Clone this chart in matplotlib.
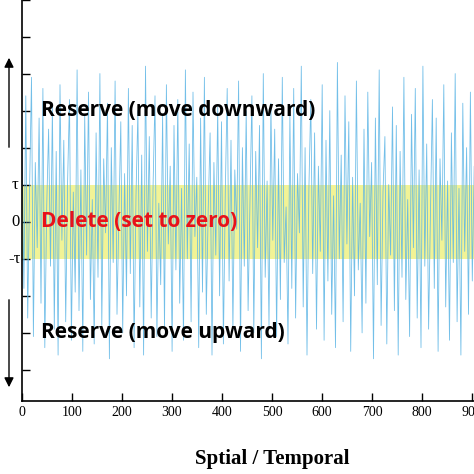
import matplotlib
matplotlib.use("Agg")
import matplotlib.pyplot as plt

step = 3.8
signal = [
 2.1,-1.8,3.4,-2.6,0.9,3.9,-3.1,1.6,-0.7,2.8,-2.2,3.6,-3.4,0.4,2.5,-1.2,3.1,-2.9,1.9,-3.6,
 3.7,-0.5,2.2,-2.7,1.1,3.3,-3.2,0.8,-1.9,4.1,-2.4,1.4,-3.5,2.9,-0.9,3.5,-2.1,0.6,-3.3,2.4,
 -1.5,4.0,-2.8,1.7,-0.3,3.2,-3.7,2.0,-1.1,3.8,-2.5,0.2,2.7,-3.0,1.3,-2.0,3.6,-1.4,2.6,-3.4,
 0.7,3.0,-2.3,1.8,-3.6,4.2,-0.8,2.3,-2.6,1.0,3.4,-3.1,0.5,-1.7,2.9,-2.9,3.7,-0.6,1.5,-3.5,
 2.6,-1.3,3.3,-2.2,0.9,-3.2,4.1,-1.0,2.1,-2.7,3.5,-0.4,1.2,-3.4,2.8,-1.9,3.9,-2.5,0.3,2.4,
 -3.6,1.6,-0.9,3.1,-2.0,2.7,-3.3,0.8,3.6,-1.6,2.2,-2.9,1.4,-0.2,3.8,-3.5,2.0,-1.2,3.0,-2.4,
 0.6,3.4,-3.0,1.9,-0.7,2.6,-3.7,4.0,-1.5,1.1,-2.8,3.2,-0.5,2.5,-3.1,1.7,-2.1,3.9,-1.1,0.4,
 -3.3,2.9,-1.8,3.6,-2.6,1.3,-0.3,4.2,-2.3,2.0,-3.6,0.9,3.3,-1.4,2.4,-2.9,1.5,-0.8,3.7,-3.2,
 2.2,-1.6,3.0,-2.5,0.7,-3.4,4.3,-1.0,1.8,-2.7,3.4,-0.6,2.7,-3.5,1.2,-2.0,3.8,-1.3,0.5,-3.0,
 2.5,-2.2,3.5,-0.4,1.6,-3.7,2.8,-1.7,4.1,-2.8,0.8,2.3,-3.3,1.0,-0.9,3.1,-2.4,2.6,-3.6,1.9,
 -1.5,3.9,-2.1,0.6,-3.1,2.9,-0.7,3.6,-2.6,1.4,-3.4,4.2,-1.2,2.1,-2.9,0.3,3.3,-1.8,2.8,-3.5,
 1.7,-0.5,3.7,-2.3,1.1,-3.2,2.4,-1.1,4.0,-2.7,0.9,-3.6,3.2,-0.8,2.0,-2.5,3.5,-1.6,1.5,-3.0,
]
x = [i * step for i in range(len(signal))]
tau = 1.0
xticks = [0, 100, 200, 300, 400, 500, 600, 700, 800, 900, 1000]
xticklabels = ["0", "100", "200", "300", "400", "500", "600", "700", "800", "900", "1000"]

fig = plt.figure(figsize=(4.74, 4.74), dpi=100)
ax = fig.add_axes([22/474, 73/474, 500/474, 420/474])
ax.plot(x, signal, color="#5ab4e5", lw=0.6, alpha=0.85)
ax.axhspan(-tau, tau, color="#e8ec50", alpha=0.6, lw=0)
ax.set_xlim(0, 1000)
ax.set_ylim(-4.84, 6.5)
for s in ["top", "right"]:
    ax.spines[s].set_visible(False)
ax.spines["left"].set_linewidth(1.2)
ax.spines["bottom"].set_linewidth(1.2)
ax.set_yticks([-4, -3, -2, -1, 0, 1, 2, 3, 4, 5, 6])
ax.set_yticklabels([])
ax.set_xticks(xticks)
ax.set_xticklabels(xticklabels, family="Liberation Serif", fontsize=10)
ax.tick_params(direction="in", length=6, width=1)
for yv, lab in [(tau, "τ"), (0, "0"), (-tau, "-τ")]:
    ax.text(-14, yv, lab, ha="center", va="center", family="Liberation Serif", fontsize=12)
ax.set_xlabel("Sptial / Temporal", family="Liberation Serif", fontweight="bold", fontsize=15, labelpad=22)
ax.text(38, 3.0, "Reserve (move downward)", family="Open Sans", fontweight="bold", fontsize=15, va="center", color="black")
ax.text(38, 0.0, "Delete (set to zero)", family="Open Sans", fontweight="bold", fontsize=15, va="center", color="#e8121a")
ax.text(38, -3.0, "Reserve (move upward)", family="Open Sans", fontweight="bold", fontsize=15, va="center", color="black")
ax.annotate("", xy=(9/474, 1-55/474), xytext=(9/474, 1-150/474), xycoords="figure fraction",
            arrowprops=dict(arrowstyle="-|>", color="black", lw=1, mutation_scale=14), annotation_clip=False)
ax.annotate("", xy=(9/474, 1-390/474), xytext=(9/474, 1-297/474), xycoords="figure fraction",
            arrowprops=dict(arrowstyle="-|>", color="black", lw=1, mutation_scale=14), annotation_clip=False)
fig.savefig("out.png", dpi=100)
